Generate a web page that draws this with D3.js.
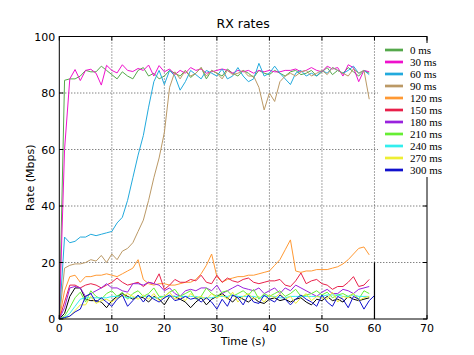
<!DOCTYPE html>
<html><head><meta charset="utf-8">
<script src="https://cdn.jsdelivr.net/npm/d3@7"></script>
<style>body{margin:0;background:#fff}svg{display:block}</style>
</head><body>
<svg id="c" width="474" height="355"></svg>
<script>
// ---- data (Mbps per second) ----
const seriesNames = ["0 ms","30 ms","60 ms","90 ms","120 ms","150 ms","180 ms","210 ms","240 ms","270 ms","300 ms"];
const seriesColors = ["#55a84b","#ee11cc","#22aadd","#bb9966","#ff9933","#e8204a","#9922dd","#66ee33","#33eeee","#eeee33","#1111cc"];
const xTicks = [0,10,20,30,40,50,60,70];
const yTicks = [0,20,40,60,80,100];

const r0 = [0,84.5,85,85,86,88,87.5,87.5,89.5,88,86.5,85,87.5,86,85,88,89,86,87,85,86,88,87,86,88,85.5,87,89,85,88,87,86,88.5,87,86,88,87,85.5,88,87,86.5,88,87,86,87.5,88,86.5,87,88,86,87.5,89,86.5,88,87,89,87.5,86,88,87];
const r30 = [0,60,85,88.3,84.4,88,88.4,87,82.8,89.8,88,87.1,90,88,87.6,88.7,88,89.9,86,89.7,87.5,88.5,86.5,88,87,89,88,88.5,87,87.5,88,88.5,88,87,88,87.5,88,87,88,87.5,88,87.5,87.5,88,88,88.5,87.5,88,89,88,87.5,89.5,88.5,89,86,90,89,84,88,87.5];
const r60 = [0,29,27,27.5,29,29,30,29.5,30,30.5,31,34,36,42,50,58,65,75,84,88,83,88,86,81,84,88,86.5,85,88,87,86,88.5,85,86,89,86,84,85,90.5,86,87,89.5,87,85,83,87,88,86,87,86,88,87,89,88,87,88,89.5,87,88,86.5];
const r90 = [0,18,19,19.5,19.5,20,21,20.5,22.5,20,23,21,24,25,27,31,35,42,50,57,66,82,87.5,85,88,86,87,89,86,88,87,85,88,86.5,87,88,86,86,82,74,80,77,84,86,87,86,87.5,88,86,87,88,86.5,89,88,87,86,88.5,87,88,77.8];
const r120 = [0,10,15,15.5,13,15,15,15.5,15.5,16,15.5,15,16,17,18,21,14,12.5,12,12.5,12.5,12,12,12.5,13,13,14,16,19,23,15,13,14,14.5,15,15,15.5,15.5,16,16.5,17,19,21,24.5,28,17,16.5,17,17,17.5,17.5,17.5,18,18.5,19.5,21,23,25,25.5,22.7];
const r150 = [0,6,12,12,11,12,12.5,12,11,12,13,14.5,13,12,12.5,13,11.5,13,12.5,16,10.5,12,14,13,13,14,13.5,15.5,13,12.5,15.5,13,14.5,13.5,13,14,14.5,13,12.5,13,13.5,13.5,14,12,11.5,13.5,16.3,12.5,13.5,14,12.5,12,10.5,11.5,11.5,13,15,11.5,12,14];
const r180 = [0,4,11,11.5,11,8,9,10,11,12.5,11,11,10,9.5,12.5,12.5,12,13,12.5,12,10,11,9,8,10,10.5,10,11,11,10,12,9,10,11,12,11,10.5,10,11,9,10,11,9,11,10,12,11,10,9,8,9.5,10.5,9,9,10.5,10,9,10.5,11,11.5];
const r210 = [0,1,4,7.5,9.5,6,10,8,7,9,10,8,9.5,7,9,10,8,9,11,8,8,9.5,10.5,8,9,10,7,8,11,9,8,9.5,10,8,9,10,8.5,10.5,7,9,8,9,10,8,9,10.5,8,8.5,9,10,8.5,9.5,7.5,8.5,9,8,9,7,10,9];
const r240 = [0,0.5,2,4.5,7,7.5,7.5,7.5,7.5,7.5,8,8,8,7.5,7.5,8,8,8,7.5,7.5,8,8,8,8,8,8,8,7.5,7.5,7.5,8,8,8,8.5,8,8,8,8,7.5,8,8,8,7.5,7.5,8,8,8,8,8,8,8,8.5,8.5,8.5,8,8,8.5,8,8,8];
const r270 = [0,0,1,3,5,5,8,5.5,6.5,7,6,7.5,8,9,8,7,8.5,7,9,6.5,8,9.5,7,8,6.5,9,7.5,8,7,9,7.5,8.5,7,9.5,6,8,9,7,8,6,8.5,7.5,9,7,8,5.5,7.5,9,6.5,8,7.5,7,9.5,6,8,7.5,9,6.5,7.5,8];
const r300 = [0,0.5,1,2.5,3.5,8,9,6,7.5,6,4.5,7,8.5,4.5,6.5,8.5,6,8.5,7,6,7.5,8.5,6.5,7,8,7,7.5,6,7.5,6,3.5,7,4.5,8.5,7.5,5,8.5,6,5.5,8.5,7,6,8.5,7,5,7,8.5,7,6,4.5,8.5,6,4.5,8,7,4,8,7,3.5,6.5,8.3];
// unlabelled black trace and its end marker at t = 60
const rBlack = [0,2,8,11,11,7,6.5,6.5,6,4,6.5,8,9,8,7,8,7.5,6,8,7,5,8,8,7,6,4,6,7.5,5,7,8,9,7.5,6,8,7,6,7.5,6,5.5,7,7.5,6.5,7,6,7,7.5,6,5,7,6.5,8,6.5,7,6,8,7,6.5,7,7.5];
const endMarkT = 60, endMarkTop = 20;

const seriesData = [r0,r30,r60,r90,r120,r150,r180,r210,r240,r270,r300];

// ---- layout ----
const svg = d3.select("#c");
const L = 59.3, R = 427, T = 36.5, B = 319;
const x = d3.scaleLinear().domain([0,70]).range([L,R]);
const y = d3.scaleLinear().domain([0,100]).range([B,T]);

svg.append("rect").attr("width",474).attr("height",355).attr("fill","#fff");

// grid
const g = svg.append("g");
g.selectAll(".gx").data(xTicks.slice(1,-1)).enter().append("line")
  .attr("x1",d=>x(d)).attr("x2",d=>x(d)).attr("y1",T).attr("y2",B)
  .attr("stroke","#222").attr("stroke-width",0.8).attr("stroke-dasharray","1,2");
g.selectAll(".gy").data(yTicks.slice(1,-1)).enter().append("line")
  .attr("y1",d=>y(d)).attr("y2",d=>y(d)).attr("x1",L).attr("x2",R)
  .attr("stroke","#222").attr("stroke-width",0.8).attr("stroke-dasharray","1,2");

// lines
const line = d3.line().x((d,i)=>x(i)).y(d=>y(d));
svg.append("path").attr("d",line(rBlack)).attr("fill","none").attr("stroke","#000").attr("stroke-width",1);
seriesData.forEach((s,k)=>{
  svg.append("path").attr("d",line(s)).attr("fill","none")
    .attr("stroke",seriesColors[k]).attr("stroke-width",1);
});
svg.append("line").attr("x1",x(endMarkT)).attr("x2",x(endMarkT))
  .attr("y1",y(0)).attr("y2",y(endMarkTop)).attr("stroke","#000").attr("stroke-width",1.2);

// frame
svg.append("rect").attr("x",L).attr("y",T).attr("width",R-L).attr("height",B-T)
  .attr("fill","none").attr("stroke","#000").attr("stroke-width",1);

// ticks (inward, all sides)
const tk = svg.append("g").attr("stroke","#000").attr("stroke-width",1);
xTicks.forEach(t=>{
  tk.append("line").attr("x1",x(t)).attr("x2",x(t)).attr("y1",B).attr("y2",B-4);
  tk.append("line").attr("x1",x(t)).attr("x2",x(t)).attr("y1",T).attr("y2",T+4);
});
yTicks.forEach(t=>{
  tk.append("line").attr("y1",y(t)).attr("y2",y(t)).attr("x1",L).attr("x2",L+4);
  tk.append("line").attr("y1",y(t)).attr("y2",y(t)).attr("x1",R).attr("x2",R-4);
});

// tick labels
const font = "DejaVu Sans, sans-serif";
svg.append("g").selectAll("text").data(xTicks).enter().append("text")
  .attr("x",d=>x(d)).attr("y",B+13).attr("text-anchor","middle")
  .attr("font-family",font).attr("font-size",11).text(d=>d);
svg.append("g").selectAll("text").data(yTicks).enter().append("text")
  .attr("x",L-4).attr("y",d=>y(d)+4).attr("text-anchor","end")
  .attr("font-family",font).attr("font-size",11).text(d=>d);

// titles
svg.append("text").attr("x",(L+R)/2).attr("y",28).attr("text-anchor","middle")
  .attr("font-family",font).attr("font-size",12.5).text("RX rates");
svg.append("text").attr("x",(L+R)/2).attr("y",345).attr("text-anchor","middle")
  .attr("font-family",font).attr("font-size",11).text("Time (s)");
svg.append("text").attr("transform",`translate(34,${(T+B)/2}) rotate(-90)`)
  .attr("text-anchor","middle").attr("font-family",font).attr("font-size",11).text("Rate (Mbps)");

// legend
const lg = svg.append("g");
lg.append("rect").attr("x",378).attr("y",43).attr("width",96).attr("height",134).attr("fill","#fff");
seriesNames.forEach((n,k)=>{
  const yy = 50 + k*12;
  lg.append("line").attr("x1",385).attr("x2",403).attr("y1",yy).attr("y2",yy)
    .attr("stroke",seriesColors[k]).attr("stroke-width",2.7);
  lg.append("text").attr("x",410).attr("y",yy+4).attr("font-family","Liberation Serif, serif")
    .attr("font-size",11).text(n);
});
</script>
</body></html>
